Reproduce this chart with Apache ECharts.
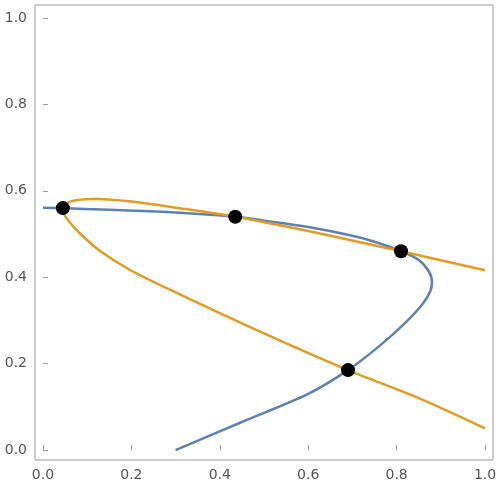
<!DOCTYPE html><html><head><meta charset="utf-8"><script src="https://cdn.jsdelivr.net/npm/echarts@6/dist/echarts.min.js"></script></head><body style="margin:0"><div id="c" style="width:502px;height:490px"></div><script>
const tickValues=[0,0.2,0.4,0.6,0.8,1.0];
const blueCurve=[[0.3,0],[0.45,0.065],[0.6,0.13],[0.69,0.185],[0.76,0.24],[0.82,0.295],[0.86,0.34],[0.877,0.37],[0.88,0.39],[0.872,0.415],[0.85,0.44],[0.81,0.46],[0.75,0.482],[0.7,0.496],[0.6,0.516],[0.5,0.531],[0.435,0.54],[0.3,0.55],[0.15,0.556],[0.04,0.56],[0,0.561]];
const orangeCurve=[[1,0.05],[0.85,0.12],[0.69,0.185],[0.5,0.27],[0.3,0.365],[0.2,0.415],[0.13,0.46],[0.085,0.5],[0.058,0.53],[0.046,0.552],[0.05,0.567],[0.065,0.576],[0.09,0.58],[0.12,0.581],[0.16,0.579],[0.2,0.575],[0.3,0.561],[0.435,0.54],[0.6,0.507],[0.81,0.46],[1,0.416]];
const intersections=[[0.045,0.56],[0.435,0.54],[0.81,0.46],[0.69,0.185]];
const ax={type:'value',axisLine:{show:false},splitLine:{show:false},
 axisTick:{show:true,inside:true,length:5,lineStyle:{color:'#999'},customValues:tickValues},
 axisLabel:{color:'#555',fontSize:14,fontFamily:'DejaVu Sans',customValues:tickValues,formatter:v=>v.toFixed(1)}};
const ch=echarts.init(document.getElementById('c'));
ch.setOption({animation:false,
grid:{left:35,right:9,top:5,bottom:30,show:true,borderColor:'#999',borderWidth:1},
xAxis:Object.assign({},ax,{min:-0.018,max:1.018}),
yAxis:Object.assign({},ax,{min:-0.023,max:1.03}),
series:[
{type:'line',data:blueCurve,smooth:0.3,showSymbol:false,lineStyle:{color:'#5E81B5',width:2.5}},
{type:'line',data:orangeCurve,smooth:0.3,showSymbol:false,lineStyle:{color:'#E19C24',width:2.5}},
{type:'scatter',data:intersections,symbolSize:14,z:5,itemStyle:{color:'#000',opacity:1}}]});
</script></body></html>
